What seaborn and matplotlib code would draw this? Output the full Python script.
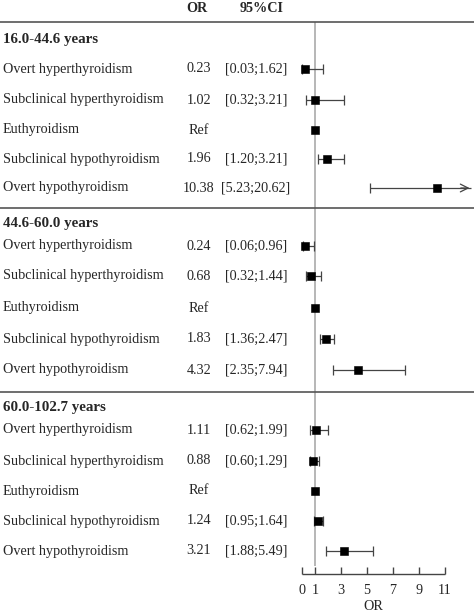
import seaborn as sns
import pandas as pd
import numpy as np
import matplotlib.pyplot as plt

groups = ["16.0-44.6 years", "44.6-60.0 years", "60.0-102.7 years"]
labels = ["Overt hyperthyroidism", "Subclinical hyperthyroidism", "Euthyroidism",
          "Subclinical hypothyroidism", "Overt hypothyroidism"]
or_vals = [[0.23, 1.02, 1.0, 1.96, 10.38],
           [0.24, 0.68, 1.0, 1.83, 4.32],
           [1.11, 0.88, 1.0, 1.24, 3.21]]
lo_vals = [[0.03, 0.32, None, 1.20, 5.23],
           [0.06, 0.32, None, 1.36, 2.35],
           [0.62, 0.60, None, 0.95, 1.88]]
hi_vals = [[1.62, 3.21, None, 3.21, 20.62],
           [0.96, 1.44, None, 2.47, 7.94],
           [1.99, 1.29, None, 1.64, 5.49]]
or_text = [["0.23", "1.02", "Ref", "1.96", "10.38"],
           ["0.24", "0.68", "Ref", "1.83", "4.32"],
           ["1.11", "0.88", "Ref", "1.24", "3.21"]]
ci_text = [["[0.03;1.62]", "[0.32;3.21]", "", "[1.20;3.21]", "[5.23;20.62]"],
           ["[0.06;0.96]", "[0.32;1.44]", "", "[1.36;2.47]", "[2.35;7.94]"],
           ["[0.62;1.99]", "[0.60;1.29]", "", "[0.95;1.64]", "[1.88;5.49]"]]
xticks = [0, 1, 3, 5, 7, 9, 11]

# layout (pixel rows)
title_y = [40, 223, 407]
row_y = [[69, 100, 130, 159, 188],
         [246, 276, 308, 339, 370],
         [430, 461, 491, 521, 551]]
sep_y = [22, 208, 392]

sns.set_style("white")
plt.rcParams['font.family'] = ['Liberation Serif', 'DejaVu Serif']
fig = plt.figure(figsize=(4.74, 6.15), dpi=100)
W, H = 474, 615
x0, unit = 302, 13.0
ax = fig.add_axes([0, 0, 1, 1])
ax.set_xlim((0 - x0) / unit, (W - x0) / unit)
ax.set_ylim(H, 0)
ax.axis("off")

def px(x):
    return (x - x0) / unit

rows = []
for g in range(3):
    for i in range(5):
        rows.append(dict(y=row_y[g][i], OR=or_vals[g][i], lo=lo_vals[g][i], hi=hi_vals[g][i]))
df = pd.DataFrame(rows)

ax.vlines(1, 22, 566, color="#aaaaaa", lw=1.2, zorder=1)
for y in sep_y:
    ax.hlines(y, px(0), px(W), color="#555555", lw=1.2)

for _, r in df.iterrows():
    if pd.isna(r.lo):
        continue
    hi = min(r.hi, 13.0)
    ax.hlines(r.y, r.lo, hi, color="#444444", lw=0.9, zorder=2)
    ax.vlines(r.lo, r.y - 5, r.y + 5, color="#444444", lw=0.9)
    if r.hi > 13:
        ax.annotate("", xy=(13.1, r.y), xytext=(12.0, r.y),
                    arrowprops=dict(arrowstyle="->", color="#444444", lw=0.9, mutation_scale=14))
    else:
        ax.vlines(hi, r.y - 5, r.y + 5, color="#444444", lw=0.9)
sns.scatterplot(data=df, x="OR", y="y", marker="s", s=26, color="black",
                edgecolor="black", ax=ax, zorder=3, legend=False)

fs = 10.2
ax.text(px(197), 9, "OR", ha="center", va="center", fontsize=fs, fontweight="bold")
ax.text(px(262), 9, "95%CI", ha="center", va="center", fontsize=fs, fontweight="bold")
for g in range(3):
    ax.text(px(3), title_y[g], groups[g], ha="left", va="center", fontsize=10.8, fontweight="bold")
    for i in range(5):
        y = row_y[g][i]
        ax.text(px(3), y, labels[i], ha="left", va="center", fontsize=fs)
        ax.text(px(199), y, or_text[g][i], ha="center", va="center", fontsize=fs)
        ax.text(px(256), y, ci_text[g][i], ha="center", va="center", fontsize=fs)

# x axis
ay = 574
ax.hlines(ay, 0, 11, color="#444444", lw=1)
for t in xticks:
    ax.vlines(t, ay, ay - 7, color="#444444", lw=1)
    ax.text(t, 591, str(t), ha="center", va="center", fontsize=fs)
ax.text(5.5, 606, "OR", ha="center", va="center", fontsize=fs)

fig.savefig("out.png", dpi=100)
